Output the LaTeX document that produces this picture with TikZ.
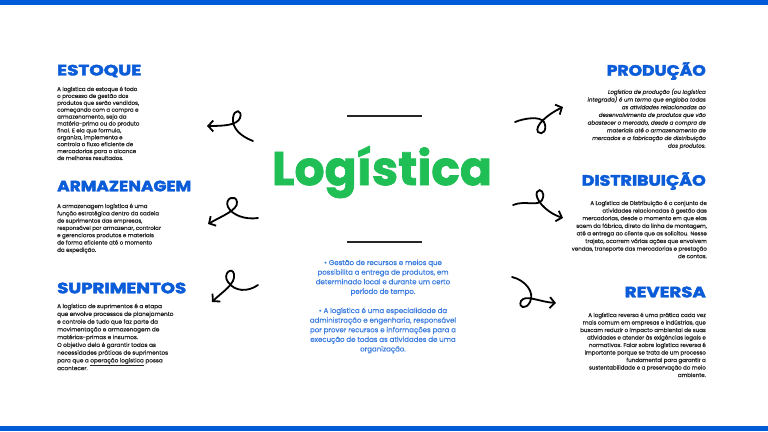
\documentclass[tikz,border=0pt]{standalone}
\usepackage{fontspec}
\setmainfont{Poppins}
\newfontfamily\hfont[FakeBold=2.5]{Poppins}
\newfontfamily\lfont[FakeBold=1.5]{Poppins}
\newfontfamily\bfont[FakeBold=0.6]{Poppins}
\usetikzlibrary{arrows.meta}
\definecolor{barblue}{HTML}{005BD8}
\definecolor{headblue}{HTML}{0B5CD8}
\definecolor{txtblue}{HTML}{3A7CE0}
\definecolor{logogreen}{HTML}{1FBF55}
\definecolor{bodygray}{HTML}{262626}
\newcommand{\hd}[2]{\resizebox{#1}{\height}{\fontsize{15}{15}\hfont\bfseries #2}}
\tikzset{
  heading/.style={inner sep=0pt, text=headblue},
  bodytxt/.style={inner sep=0pt, text=bodygray, font=\bfont\fontsize{5.5}{6.9}\selectfont},
  centertxt/.style={inner sep=0pt, text=txtblue, align=center, font=\bfont\fontsize{7}{9.6}\selectfont},
  swirl/.style={line width=1.8pt, line cap=round, black, -{Straight Barb[length=5pt,width=11pt,line width=1.8pt]}},
  rule/.style={line width=1.2pt, black!85}
}
\begin{document}
\begin{tikzpicture}[x=1pt,y=-1pt]
\useasboundingbox (0,0) rectangle (768,431);
\fill[white] (0,0) rectangle (768,431);
\fill[barblue] (0,0) rectangle (768,5);
\fill[barblue] (0,426) rectangle (768,431);

% headings
\node[heading, anchor=west] (h1) at (57,71) {\hd{84pt}{ESTOQUE}};
\node[heading, anchor=west] (h2) at (57,186) {\hd{134pt}{ARMAZENAGEM}};
\node[heading, anchor=west] (h3) at (57,288) {\hd{129pt}{SUPRIMENTOS}};
\node[heading, anchor=east] (h4) at (706,71) {\hd{99pt}{PRODUÇÃO}};
\node[heading, anchor=east] (h5) at (706,181) {\hd{124pt}{DISTRIBUIÇÃO}};
\node[heading, anchor=east] (h6) at (706,292) {\hd{81pt}{REVERSA}};

% body texts left
\node[bodytxt, align=left, anchor=north west] (t1) at (57,86.5) {A logística de estoque é todo\\o processo de gestão dos\\produtos que serão vendidos,\\começando com a compra e\\armazenamento, seja da\\matéria-prima ou do produto\\final. E ela que formula,\\organiza, implementa e\\controla o fluxo eficiente de\\mercadorias para o alcance\\de melhores resultados.};
\node[bodytxt, align=left, anchor=north west, font=\bfont\fontsize{5.5}{7.3}\selectfont] (t2) at (57,203.5) {A armazenagem logística é uma\\função estratégica dentro da cadeia\\de suprimentos das empresas,\\responsável por armazenar, controlar\\e gerenciaros produtos e materiais\\de forma eficiente até o momento\\da expedição.};
\node[bodytxt, align=left, anchor=north west, font=\bfont\fontsize{5.7}{7.75}\selectfont] (t3) at (57,303.5) {A logística de suprimentos é a etapa\\que envolve processos de planejamento\\e controle de tudo que faz parte da\\movimentação e armazenagem de\\matérias-primas e insumos.\\O objetivo dela é garantir todas as\\necessidades práticas de suprimentos\\para que a \underline{operação logística} possa\\acontecer.};

% body texts right
\node[bodytxt, align=right, anchor=north east, font=\bfont\fontsize{5.5}{7.7}\selectfont\itshape] (t4) at (706,88.5) {Logística de produção (ou logística\\integrada) é um termo que engloba todas\\as atividades relacionadas ao\\desenvolvimento de produtos que vão\\abastecer o mercado, desde a compra de\\materiais até o armazenamento de\\mercados e a fabricação de distribuição\\dos produtos.};
\node[bodytxt, align=right, anchor=north east, font=\bfont\fontsize{5.5}{7.6}\selectfont] (t5) at (707,200.5) {A Logística de Distribuição é o conjunto de\\atividades relacionadas à gestão das\\mercadorias, desde o momento em que elas\\saem da fábrica, direto da linha de montagem,\\até a entrega ao cliente que as solicitou. Nesse\\trajeto, ocorrem várias ações que envolvem\\vendas, transporte das mercadorias e prestação\\de contas.};
\node[bodytxt, align=right, anchor=north east, font=\bfont\fontsize{5.5}{7.5}\selectfont] (t6) at (706,312.5) {A logística reversa é uma prática cada vez\\mais comum em empresas e indústrias, que\\buscam reduzir o impacto ambiental de suas\\atividades e atender às exigências legais e\\normativas. Falar sobre logística reversa é\\importante porque se trata de um processo\\fundamental para garantir a\\sustentabilidade e a preservação do meio\\ambiente.};

% centre
\coordinate (r1a) at (347,116);
\coordinate (r1b) at (422,116);
\coordinate (r2a) at (347,242);
\coordinate (r2b) at (422,242);
\draw[rule] (r1a) -- (r1b);
\draw[rule] (r2a) -- (r2b);
\node[inner sep=0pt, text=logogreen] (logo) at (382,172) {\resizebox{220pt}{!}{\fontsize{60}{60}\lfont\bfseries Logística}};
\node[centertxt, anchor=north] (c1) at (383,259.5) {• Gestão de recursos e meios que\\possibilita a entrega de produtos, em\\determinado local e durante um certo\\período de tempo.\\[9.6pt]• A logística é uma especialidade da\\administração e engenharia, responsável\\por prover recursos e informações para a\\execução de todas as atividades de uma\\organização.};

% swirly arrows
\draw[swirl] (253,141) .. controls (240,136) and (232,128) .. (233,118) .. controls (234,108) and (243,110) .. (240,118) .. controls (237,125) and (225,126) .. (207,126);
\draw[swirl] (258,218) .. controls (245,220) and (232,215) .. (228,207) .. controls (224,198) and (236,194) .. (237,202) .. controls (238,210) and (222,216) .. (208,224);
\draw[swirl] (258,285) .. controls (248,292) and (235,292) .. (228,282) .. controls (222,274) and (232,266) .. (234,274) .. controls (236,284) and (222,292) .. (212,302);
\draw[swirl] (515,122) .. controls (525,118) and (540,116) .. (544,122) .. controls (548,130) and (542,136) .. (538,132) .. controls (534,126) and (548,114) .. (563,107);
\draw[swirl] (513,205) .. controls (525,200) and (538,207) .. (542,200) .. controls (546,193) and (540,187) .. (537,192) .. controls (534,198) and (545,212) .. (563,218);
\draw[swirl] (512,277) .. controls (525,280) and (535,292) .. (530,302) .. controls (526,310) and (518,308) .. (521,301) .. controls (525,294) and (540,302) .. (556,303);
\end{tikzpicture}
\end{document}
